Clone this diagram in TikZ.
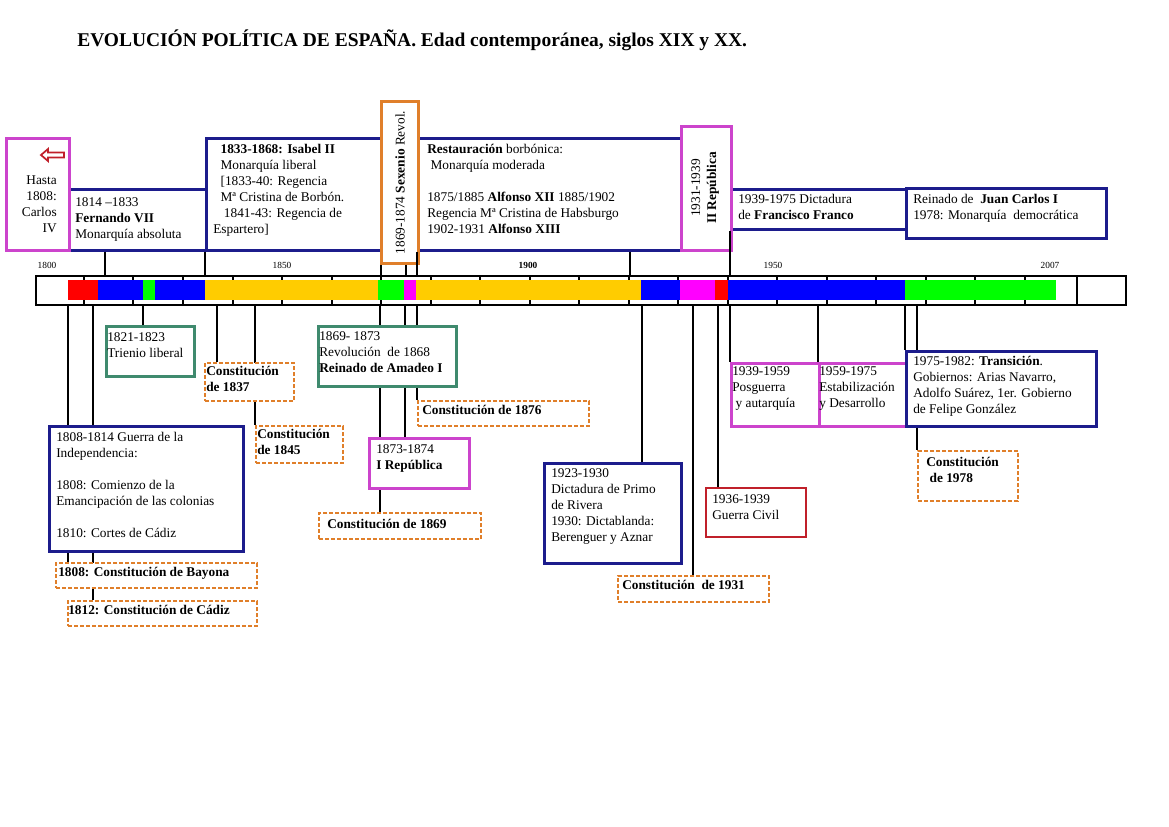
\documentclass[tikz,border=0pt]{standalone}
\usepackage{fontspec}
\setmainfont{Liberation Serif}
\pgfdeclarelayer{back}
\pgfdeclarelayer{lines}
\pgfsetlayers{back,lines,main}
\begin{document}
\definecolor{navy}{HTML}{1C1C8C}
\definecolor{teal}{HTML}{3F8A6E}
\definecolor{mag}{HTML}{CC44CC}
\definecolor{orng}{HTML}{E07F2A}
\definecolor{dred}{HTML}{C0202A}
\definecolor{byel}{HTML}{FFCC00}
\definecolor{bmag}{HTML}{FF00FF}
\begin{tikzpicture}[x=0.75pt,y=-0.75pt,
  bx/.style n args={2}{draw,fill=white,minimum width=#1*0.75pt,minimum height=#2*0.75pt,anchor=north west,inner sep=0pt},
  nv/.style={draw=navy,line width=2pt},
  tl/.style={draw=teal,line width=2pt},
  mg/.style={draw=mag,line width=2pt},
  rd/.style={draw=dred,line width=1.6pt},
  cons/.style={draw=orng,line width=1.6pt,dash pattern=on 3pt off 1.5pt},
  txt/.style={anchor=north west,inner sep=0pt,align=left,font=\fontsize{10}{12}\selectfont},
  btxt/.style={txt,font=\fontsize{10}{12}\selectfont\bfseries},
  yr/.style={inner sep=0pt,font=\fontsize{7}{8}\selectfont},
  conn/.style={line width=2pt,black}]
\begin{pgfonlayer}{back}
\fill[white] (0,0) rectangle (1169,826);
\end{pgfonlayer}
\useasboundingbox (0,0) rectangle (1169,826);
\node[anchor=west,inner sep=0pt,font=\fontsize{14.6}{17}\selectfont\bfseries] (title) at (77,40) {EVOLUCIÓN POLÍTICA DE ESPAÑA. Edad contemporánea, siglos XIX y XX.};
% axis
\node[draw,line width=1.5pt,minimum width=1090*0.75pt,minimum height=29*0.75pt,anchor=north west,inner sep=0pt] (axis) at (35,275) {};
\foreach \t in {84,133,183,233,282,332,381,431,480,530,579,629,678,728,777,827,876,926,975,1025,1077}
  \draw[line width=1.2pt] (axis.north -| \t,0) -- (axis.south -| \t,0);
\foreach \a/\b/\c in {68/98/red,98/143/blue,143/155/green,155/205/blue,205/378/byel,378/404/green,404/416/bmag,416/641/byel,641/680/blue,680/715/bmag,715/728/red,728/905/blue,905/1056/green}
  \fill[\c] (\a,280) rectangle (\b,300);
\node[yr] (y1800) at (47,265) {1800};
\node[yr] (y1850) at (282,265) {1850};
\node[yr,font=\fontsize{7}{8}\selectfont\bfseries] (y1900) at (528,265) {1900};
\node[yr] (y1950) at (773,265) {1950};
\node[yr] (y2007) at (1050,265) {2007};

% top boxes
\node[bx={137}{61},nv] (fer) at (68,188) {};
\node[bx={175}{112},nv] (isa) at (205,137) {};
\node[bx={263}{112},nv] (res) at (417,137) {};
\node[bx={175}{40},nv] (fra) at (730,188) {};
\node[bx={200}{50},nv] (jc) at (905,187) {};
\node[bx={63}{112},mg] (car) at (5,137) {};
\node[bx={37}{162},draw=orng,line width=2.2pt] (sex) at (380,100) {};
\node[bx={50}{124},mg] (rep2) at (680,125) {};
\draw[dred,line width=1.3pt,fill=white] (41,155) -- (48,149) -- (48,152.5) -- (64,152.5) -- (64,157.5) -- (48,157.5) -- (48,161) -- cycle;

% top connectors
\draw[conn] (fer.south -| 105,0) -- (axis.north -| 105,0);
\draw[conn] (isa.south west) -- (axis.north -| 205,0);
\draw[conn] (sex.south -| 381,0) -- (axis.north -| 381,0);
\draw[conn] (sex.south -| 406,0) -- (axis.north -| 406,0);
\draw[conn] (res.south west) -- (axis.north -| 417,0);
\draw[conn] (res.south -| 630,0) -- (axis.north -| 630,0);
\draw[conn] (fra.south west) -- (axis.north -| 730,0);

% top texts
\node[txt,anchor=north east,align=right] (tcar) at (57,175) {Hasta\\1808:\\Carlos\\IV};
\node[txt] (tfer) at (75,197) {1814 --1833\\\textbf{Fernando VII}\\Monarquía absoluta};
\node[txt] (tisa) at (213,144) {\hspace{5.5pt}\textbf{1833-1868: Isabel II}\\\hspace{5.5pt}Monarquía liberal\\\hspace{5.5pt}{[}1833-40: Regencia\\\hspace{5.5pt}Mª Cristina de Borbón.\\\hspace{8pt}1841-43: Regencia de\\Espartero{]}};
\node[txt] (tres) at (427,144) {\textbf{Restauración} borbónica:\\\ Monarquía moderada\\\mbox{}\\1875/1885 \textbf{Alfonso XII} 1885/1902\\Regencia Mª Cristina de Habsburgo\\1902-1931 \textbf{Alfonso XIII}};
\node[txt] (tfra) at (738,194) {1939-1975 Dictadura\\ de \textbf{Francisco Franco}};
\node[txt] (tjc) at (913,194) {Reinado de \ \textbf{Juan Carlos I}\\1978: Monarquía \ democrática};
\node[inner sep=0pt,rotate=90,font=\fontsize{10}{12}\selectfont] (tsex) at (sex.center) {1869-1874 \textbf{Sexenio} Revol.};
\node[inner sep=0pt,rotate=90,align=center,font=\fontsize{10}{12}\selectfont] (trep2) at (705,188) {1931-1939\\\textbf{II República}};

% lower boxes
\node[bx={88}{50},tl] (tri) at (105,325) {};
\node[bx={89}{38},cons] (c37) at (204,362) {};
\node[bx={87}{37},cons] (c45) at (255,425) {};
\node[bx={138}{60},tl] (ama) at (317,325) {};
\node[bx={171}{25},cons] (c76) at (417,400) {};
\node[bx={100}{50},mg] (rep1) at (368,437) {};
\node[bx={162}{26},cons] (c69) at (318,512) {};
\node[bx={194}{125},nv] (gue) at (48,425) {};
\node[bx={201}{25},cons] (bay) at (55,562) {};
\node[bx={189}{25},cons] (cad) at (67,600) {};
\node[bx={137}{100},nv] (pri) at (543,462) {};
\node[bx={151}{26},cons] (c31) at (617,575) {};
\node[bx={100}{49},rd] (gc) at (705,487) {};
\node[bx={88}{63},mg] (pos) at (730,362) {};
\node[bx={87}{63},mg] (est) at (818,362) {};
\node[bx={190}{75},nv] (tra) at (905,350) {};
\node[bx={100}{50},cons] (c78) at (917,450) {};

% lower connectors (behind boxes)
\begin{pgfonlayer}{lines}
\draw[conn] (axis.south -| 68,0) -- (bay.north -| 68,0);
\draw[conn] (axis.south -| 93,0) -- (cad.north -| 93,0);
\draw[conn] (axis.south -| 143,0) -- (tri.north -| 143,0);
\draw[conn] (axis.south -| 217,0) -- (c37.north -| 217,0);
\draw[conn] (axis.south -| 255,0) -- (c45.north -| 255,0);
\draw[conn] (axis.south -| 380,0) -- (c69.north -| 380,0);
\draw[conn] (axis.south -| 405,0) -- (rep1.north -| 405,0);
\draw[conn] (axis.south -| 417,0) -- (c76.north -| 417,0);
\draw[conn] (axis.south -| 642,0) -- (pri.north -| 642,0);
\draw[conn] (axis.south -| 693,0) -- (c31.north -| 693,0);
\draw[conn] (axis.south -| 718,0) -- (gc.north -| 718,0);
\draw[conn] (axis.south -| 730,0) -- (pos.north -| 730,0);
\draw[conn] (axis.south -| 818,0) -- (est.north -| 818,0);
\draw[conn] (axis.south -| 905,0) -- (tra.north -| 905,0);
\draw[conn] (axis.south -| 917,0) -- (c78.north -| 917,0);
\end{pgfonlayer}

% lower texts
\node[txt] (ttri) at (107,332) {1821-1823\\Trienio liberal};
\node[btxt] (t37) at (206,366) {Constitución\\de 1837};
\node[btxt] (t45) at (257,429) {Constitución\\de 1845};
\node[txt] (tama) at (319,331) {1869- 1873\\Revolución \ de 1868\\\textbf{Reinado de Amadeo I}};
\node[btxt] (t76) at (422,405) {Constitución de 1876};
\node[txt] (trep1) at (376,444) {1873-1874\\\textbf{I República}};
\node[btxt] (t69) at (327,519) {Constitución de 1869};
\node[txt] (tgue) at (56,432) {1808-1814 Guerra de la\\Independencia:\\\mbox{}\\1808: Comienzo de la\\Emancipación de las colonias\\\mbox{}\\1810: Cortes de Cádiz};
\node[btxt] (tbay) at (58,567) {1808: Constitución de Bayona};
\node[btxt] (tcad) at (68,605) {1812: Constitución de Cádiz};
\node[txt] (tpri) at (551,468) {1923-1930\\Dictadura de Primo\\de Rivera\\1930: Dictablanda:\\Berenguer y Aznar};
\node[btxt] (t31) at (622,580) {Constitución \ de 1931};
\node[txt] (tgc) at (712,494) {1936-1939\\Guerra Civil};
\node[txt] (tpos) at (732,366) {1939-1959\\Posguerra\\\ y autarquía};
\node[txt] (test) at (819,366) {1959-1975\\Estabilización\\y Desarrollo};
\node[txt] (ttra) at (913,356) {1975-1982: \textbf{Transición}.\\Gobiernos: Arias Navarro,\\Adolfo Suárez, 1er. Gobierno\\de Felipe González};
\node[btxt] (t78) at (926,457) {Constitución\\\ de 1978};
\end{tikzpicture}
\end{document}
